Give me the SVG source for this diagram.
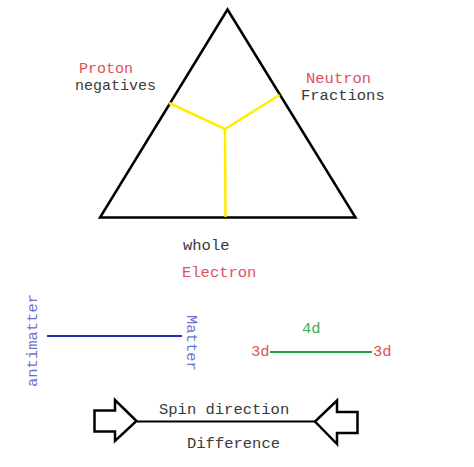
<svg xmlns="http://www.w3.org/2000/svg" width="474" height="467" viewBox="0 0 474 467">
<style>
text{font-family:"Courier New","Nimbus Mono PS","FreeMono","Liberation Mono",monospace;font-size:15.5px}
.r{fill:#e0505e}.k{fill:#3a3a3a}.b{fill:#6a72cc}.g{fill:#44aa55}
.ol{fill:#fff;stroke:#000;stroke-width:2.5;stroke-linejoin:miter}
</style>
<rect width="474" height="467" fill="#fff"/>
<g id="triangle">
<polygon points="227.5,9.5 100,217.5 355.5,217.5" fill="none" stroke="#000" stroke-width="2.5"/>
</g>
<g id="connectors">
<polyline points="169,103 225,129 279.5,95" fill="none" stroke="#ffee00" stroke-width="2.5"/>
<line x1="225" y1="129" x2="225.5" y2="217" stroke="#ffee00" stroke-width="2.5"/>
<line x1="47" y1="336" x2="182" y2="336" stroke="#2a2ab0" stroke-width="2"/>
<line x1="270" y1="352" x2="372" y2="352" stroke="#22a040" stroke-width="2"/>
<line x1="137" y1="421.5" x2="315" y2="421.5" stroke="#000" stroke-width="2"/>
</g>
<g id="proton"><text x="79" y="73" class="r" style="font-size:15px">Proton</text><text x="75" y="89.5" class="k" style="font-size:15px">negatives</text></g>
<g id="neutron"><text x="306" y="82.5" class="r">Neutron</text><text x="301" y="100" class="k">Fractions</text></g>
<g id="electron"><text x="183" y="250" class="k">whole</text><text x="182" y="277" class="r">Electron</text></g>
<g id="antimatter"><text transform="translate(37,387) rotate(-90)" class="b">antimatter</text></g>
<g id="matter"><text transform="translate(187,315) rotate(90)" class="b">Matter</text></g>
<g id="d4"><text x="302" y="333" class="g">4d</text></g>
<g id="d3a"><text x="251" y="356" class="r">3d</text></g>
<g id="d3b"><text x="373" y="356" class="r">3d</text></g>
<g id="arrowL"><polygon class="ol" points="94.5,410.5 115,410.5 115,400 136.5,421 115,441 115,431.5 94.5,431.5"/></g>
<g id="arrowR"><polygon class="ol" points="357.5,412 337,412 337,400.5 315,421.5 337,444 337,433 357.5,433"/></g>
<g id="spin"><text x="159" y="414" class="k">Spin direction</text><text x="187" y="448" class="k">Difference</text></g>
</svg>
